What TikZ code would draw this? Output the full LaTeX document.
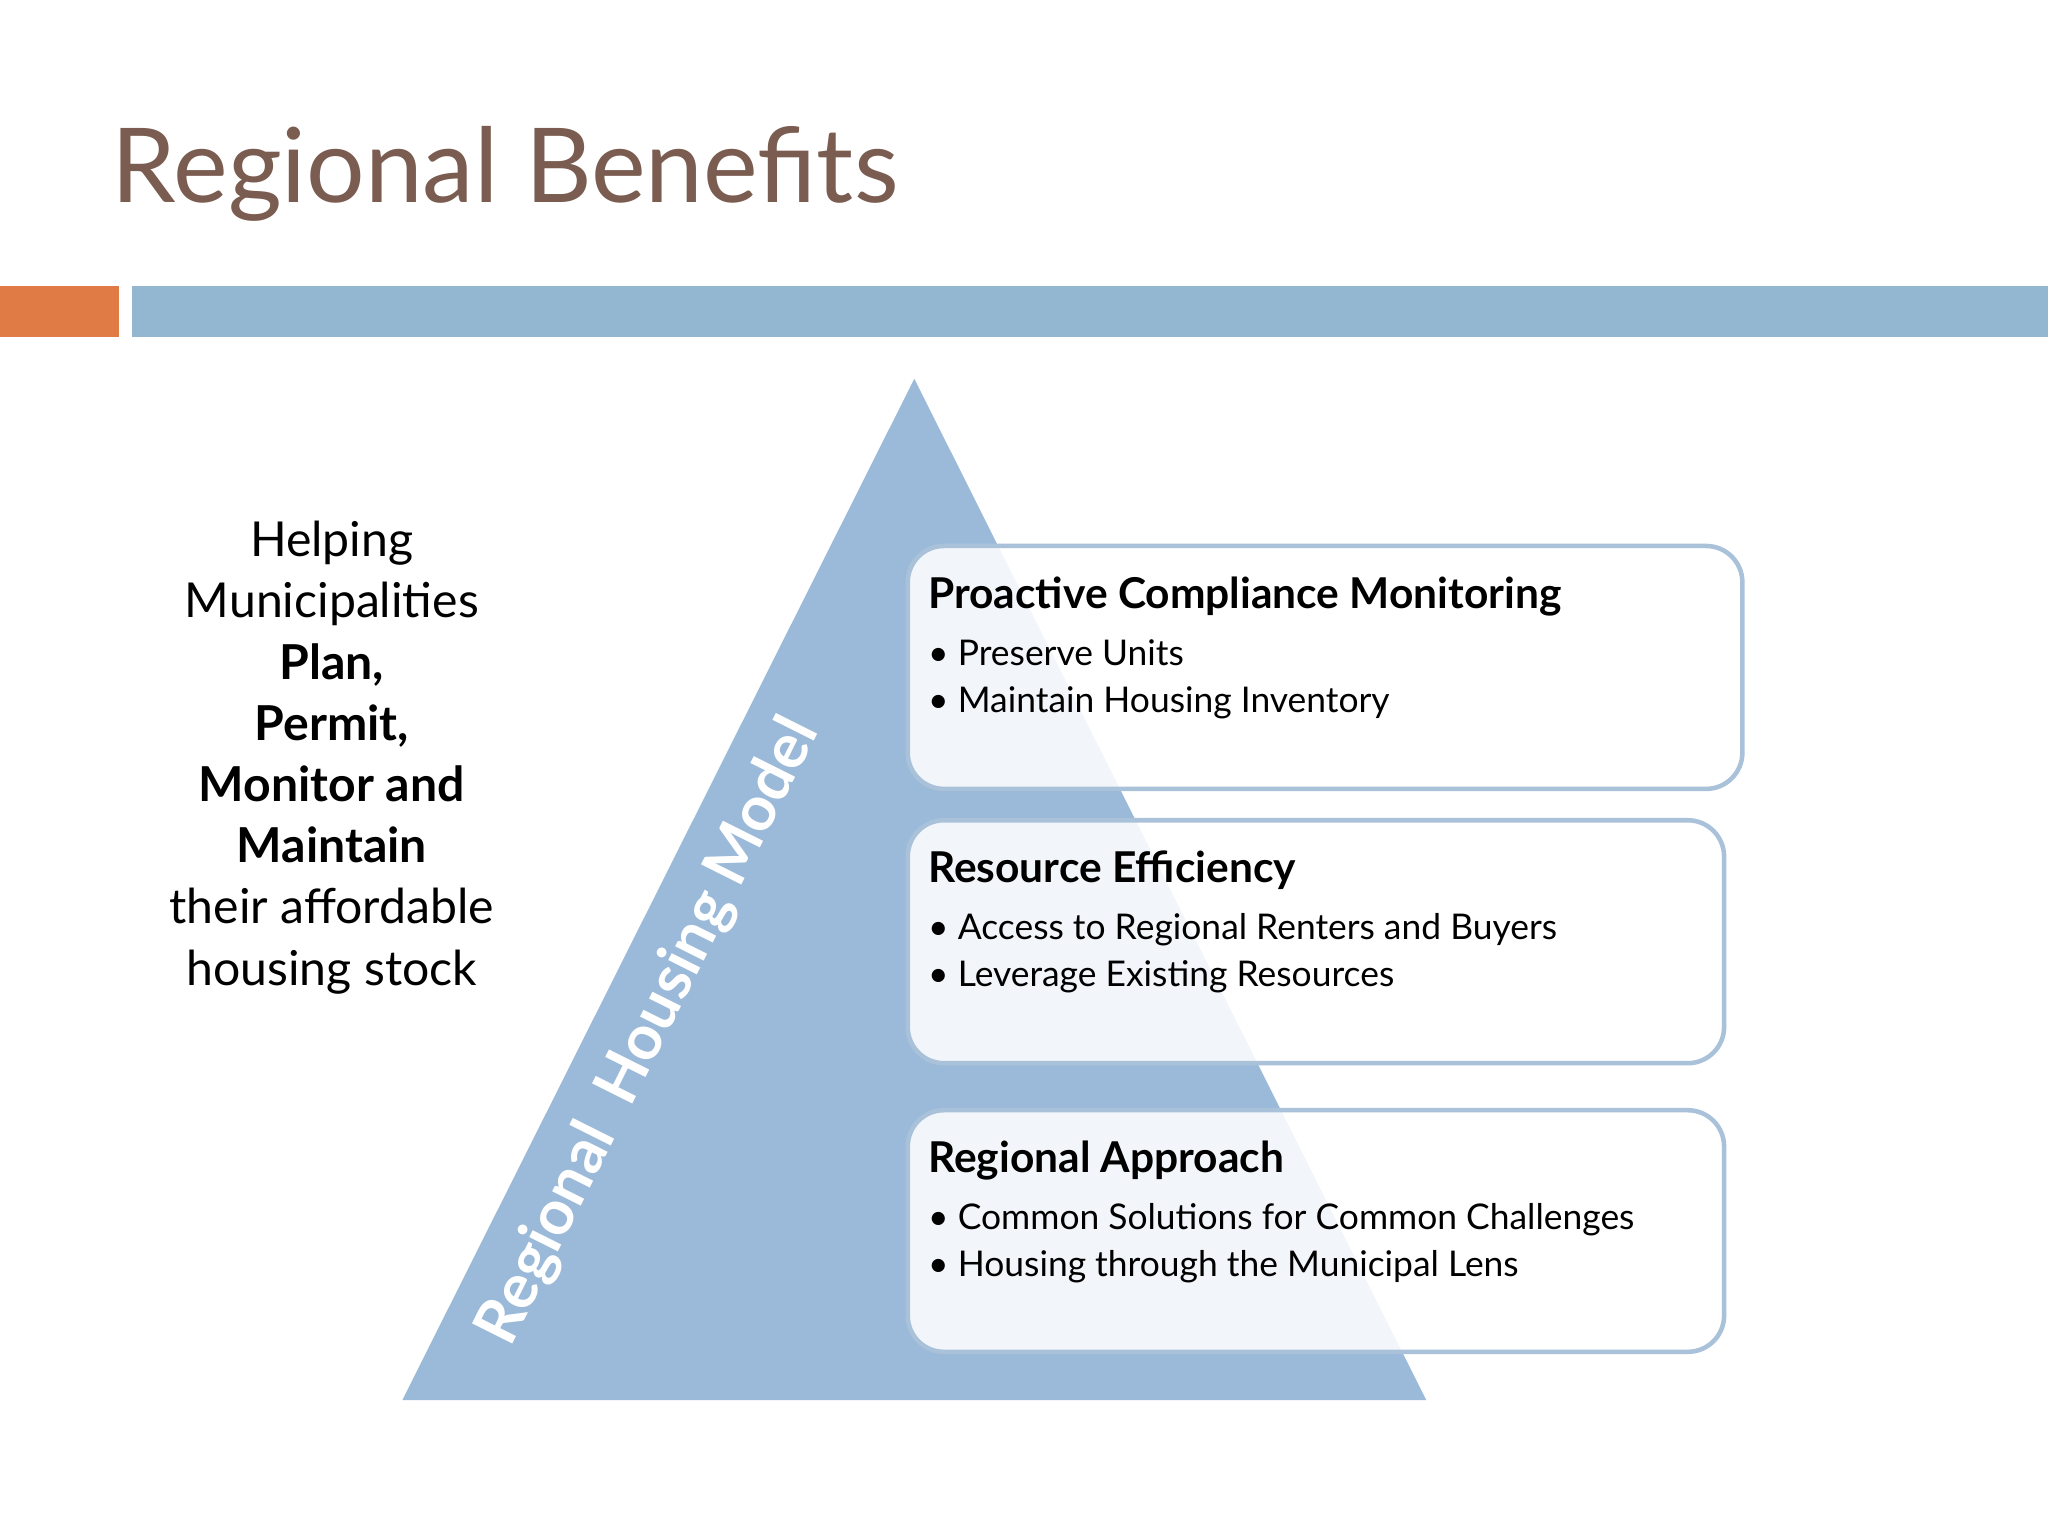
\documentclass[tikz,border=0pt]{standalone}
\usepackage{fontspec}
\setmainfont{Lato}
\usetikzlibrary{positioning}
\definecolor{titlebrown}{HTML}{7A5C50}
\definecolor{barorange}{HTML}{E07B45}
\definecolor{barblue}{HTML}{93B6D1}
\definecolor{pyrblue}{HTML}{9BB9D8}
\definecolor{boxline}{HTML}{A9C2DA}
\tikzset{
  benefitbox/.style={draw=boxline, line width=1.6pt, rounded corners=0.45cm, fill=white, fill opacity=0.88, text opacity=1},
  boxhead/.style={anchor=north west, font=\fontsize{15}{18}\selectfont\bfseries},
  boxitems/.style={anchor=north west, font=\fontsize{12.5}{16.6}\selectfont, align=left}
}
\begin{document}
\begin{tikzpicture}[x=0.0162cm, y=-0.0162cm]
	\useasboundingbox[fill=white] (0,0) rectangle (1568,1176);
	\node[anchor=west, text=titlebrown, font=\fontsize{36.5}{40}\selectfont] (title) at (78,133) {Regional Benefits};
	\fill[barorange] (0,219) rectangle (91,258);
	\fill[barblue] (101,219) rectangle (1568,258);
	
	% pyramid
	\coordinate (apex) at (700,290);
	\coordinate (bl) at (308,1072);
	\coordinate (br) at (1092,1072);
	\fill[pyrblue] (apex) -- (br) -- (bl) -- cycle;
	\node[rotate=63.4, text=white, font=\fontsize{22}{24}\selectfont\bfseries] (model) at (497,790) {Regional\ \ Housing Model};
	
	% boxes
	\draw[benefitbox] (695,418) rectangle (1334,604);
	\node[boxhead] (h1) at (703,434) {Proactive Compliance Monitoring};
	\node[boxitems] (i1) at (703,482) {• Preserve Units\\• Maintain Housing Inventory};
	
	\draw[benefitbox] (695,628) rectangle (1320,814);
	\node[boxhead] (h2) at (703,644) {Resource Efficiency};
	\node[boxitems] (i2) at (703,692) {• Access to Regional Renters and Buyers\\• Leverage Existing Resources};
	
	\draw[benefitbox] (695,850) rectangle (1320,1035);
	\node[boxhead] (h3) at (703,866) {Regional Approach};
	\node[boxitems] (i3) at (703,914) {• Common Solutions for Common Challenges\\• Housing through the Municipal Lens};
	
	% left text
	\node[align=center, font=\fontsize{17}{21.6}\selectfont] (help) at (254,580)
	  {Helping\\Municipalities\\\textbf{Plan,}\\\textbf{Permit,}\\\textbf{Monitor and}\\\textbf{Maintain}\\their affordable\\housing stock};
\end{tikzpicture}
\end{document}
